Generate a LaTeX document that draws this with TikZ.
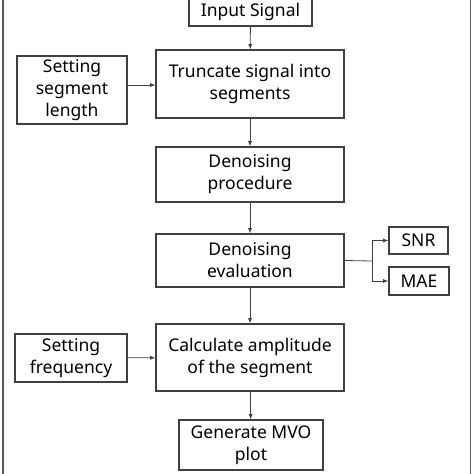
\documentclass[tikz,border=0pt]{standalone}
\usepackage{fontspec}
\setmainfont{Noto Sans}
\usepackage{tikz}
\usetikzlibrary{shapes,arrows}
\usepackage{xcolor}
\definecolor{boxline}{HTML}{404040}

\begin{document}
\begin{tikzpicture}[x=1pt,y=-1pt,box/.style={rectangle,draw=boxline,line width=1.3pt,align=center,inner sep=0pt,font=\fontsize{17.5}{22}\selectfont},flow/.style={-latex,draw=boxline,line width=0.8pt},frame/.style={draw=black!65,line width=1.5pt}]
		\useasboundingbox (0,0) rectangle (474,474);
		\draw[frame] (3,-5) -- (3,480) (470.5,-5) -- (470.5,480);
		\node (input)[box,minimum width=123pt,minimum height=29pt] at (250.5,11.5) {Input Signal};
		\node (trunc)[box,minimum width=188pt,minimum height=68pt] at (250,84) {Truncate signal into\\segments};
		\node (seglen)[box,minimum width=110pt,minimum height=68pt] at (72,90) {Setting\\segment\\length};
		\node (denoise)[box,minimum width=188pt,minimum height=55pt] at (250,174.5) {Denoising\\procedure};
		\node (eval)[box,minimum width=188pt,minimum height=53pt] at (250,260.5) {Denoising\\evaluation};
		\node (snr)[box,minimum width=59pt,minimum height=27pt] at (418.5,240.5) {SNR};
		\node (mae)[box,minimum width=60pt,minimum height=28pt] at (419,281) {MAE};
		\node (calc)[box,minimum width=188pt,minimum height=67pt] at (250,357.5) {Calculate amplitude\\of the segment};
		\node (freq)[box,minimum width=112pt,minimum height=48pt] at (71,358) {Setting\\frequency};
		\node (mvo)[box,minimum width=144pt,minimum height=50pt] at (251,445) {Generate MVO\\plot};
		\coordinate (split) at (372,261);
		\draw[flow] (input) -- (trunc);
		\draw[flow] (seglen.east |- 0,85) -- (trunc.west |- 0,85);
		\draw[flow] (trunc) -- (denoise);
		\draw[flow] (denoise) -- (eval);
		\draw[draw=boxline,line width=0.8pt] (eval.east) -- (split);
		\draw[flow] (split) |- (snr);
		\draw[flow] (split) |- (mae);
		\draw[flow] (eval) -- (calc);
		\draw[flow] (freq) -- (calc);
		\draw[flow] (calc) -- (mvo);
		\end{tikzpicture}
\end{document}
